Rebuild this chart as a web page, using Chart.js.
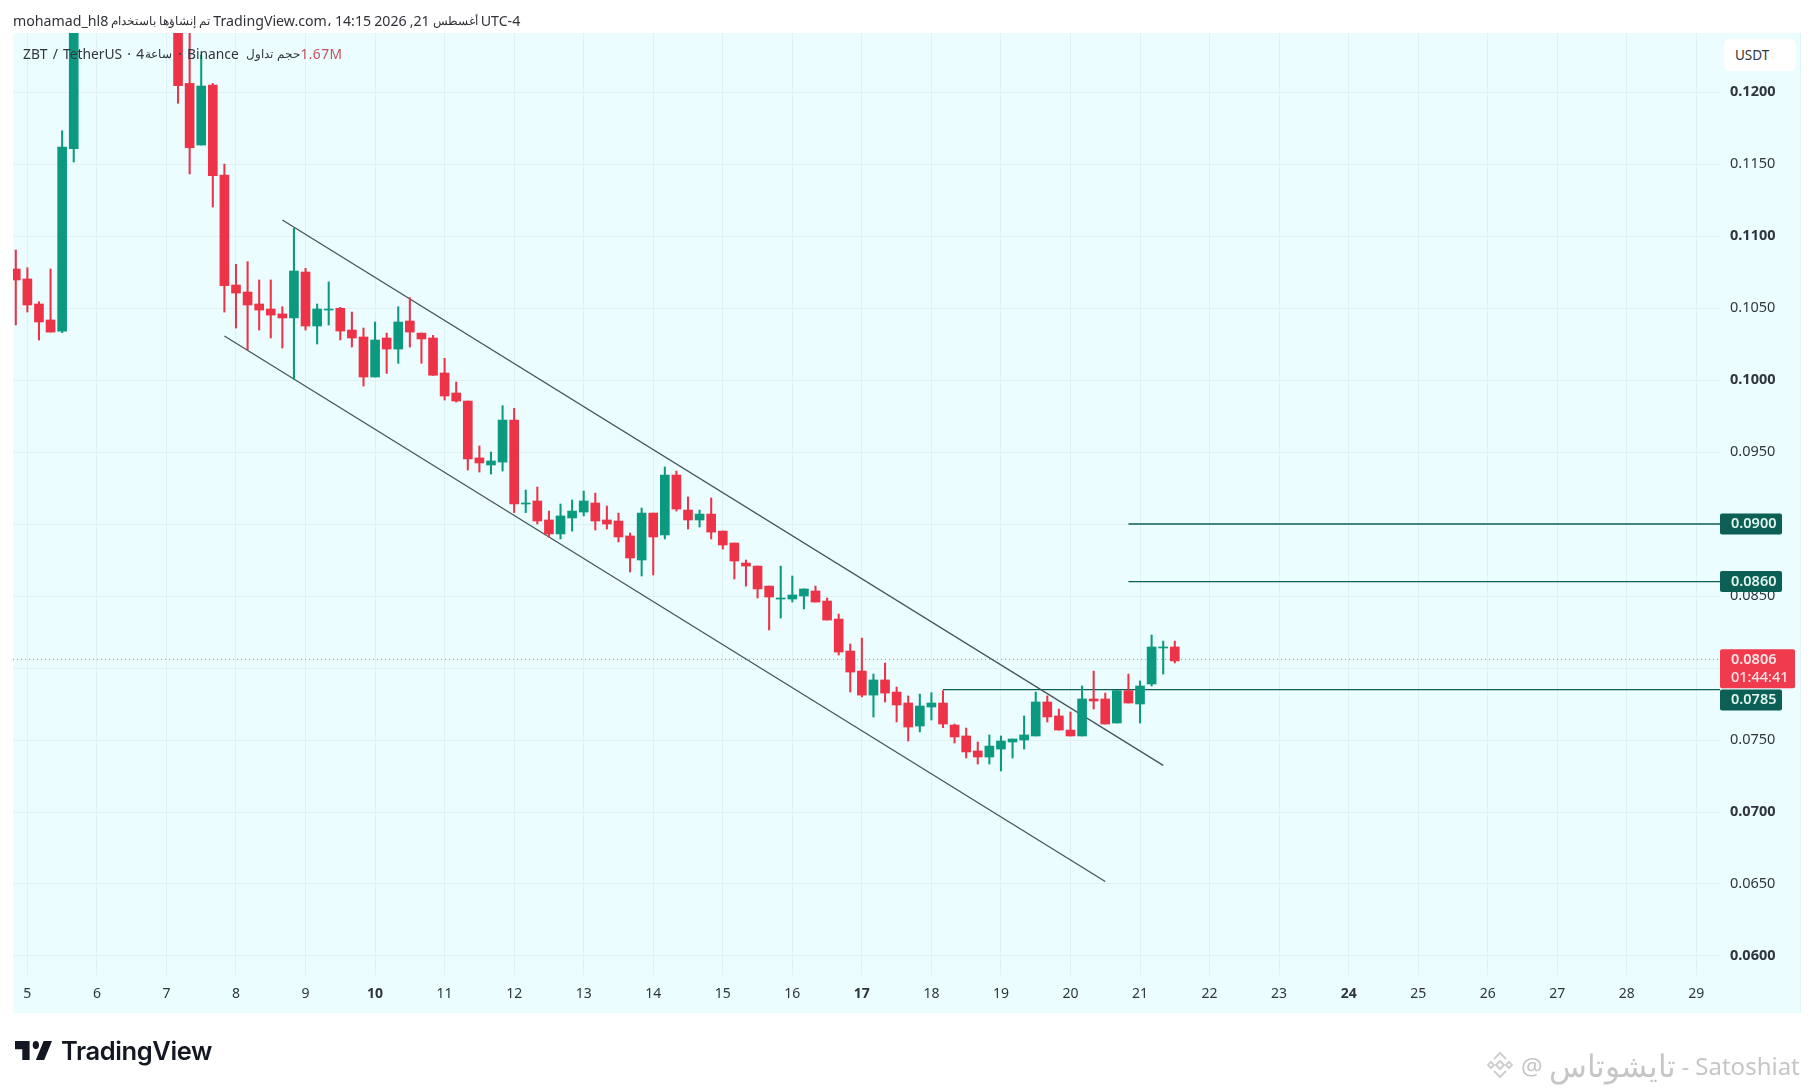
<!DOCTYPE html>
<html>
<head>
<meta charset="utf-8">
<title>ZBT / TetherUS</title>
<script src="https://cdn.jsdelivr.net/npm/chart.js@4/dist/chart.umd.min.js"></script>
<style>
  html, body { margin: 0; padding: 0; background: #fff; }
  body { width: 1814px; height: 1088px; position: relative; overflow: hidden; font-family: "Noto Sans", sans-serif; }
  canvas { position: absolute; left: 0; top: 0; }
  .over { position: absolute; white-space: pre; display: flex; align-items: center; }
  .over span { display: inline-block; }
  #header { left: 13px; top: 10px; height: 20px; font-size: 14.2px; color: #2f3238; gap: 3px; }
  #header .ar { font-size: 11.5px; }
  #legend { left: 23px; top: 43px; height: 20px; font-size: 13.8px; color: #2f3440; gap: 4px; word-spacing: 1.6px; }
  #legend .ar { font-size: 12px; }
  #legend .vol { color: #c2515f; letter-spacing: 0.4px; margin-left: -4px; }
  #unit { left: 1724px; top: 39px; width: 72px; height: 32px; background: #fff; border-radius: 6px; font-size: 13.5px; color: #2f3440; padding-left: 11px; box-sizing: border-box; }
  #brand { left: 15px; top: 1034px; height: 32px; gap: 9px; font-family: Inter, sans-serif; font-weight: 600; font-size: 25.5px; letter-spacing: -0.4px; color: #131722; }
  #mark { left: 1485px; top: 1048px; height: 34px; gap: 6px; font-family: "Noto Sans", sans-serif; font-size: 24px; color: #c6c6c6; }
  #mark .ar { font-size: 31px; line-height: 34px; }
</style>
</head>
<body>
<canvas id="chart" width="1814" height="1088"></canvas>
<div class="over" id="header"><span>mohamad_hl8</span><span class="ar">تم إنشاؤها باستخدام</span><span>TradingView.com،</span><span>14:15</span><span>2026</span><span>,21</span><span class="ar">أغسطس</span><span>UTC-4</span></div>
<div class="over" id="legend"><span>ZBT / TetherUS · 4</span><span class="ar" style="margin-left:-3px">ساعة</span><span style="margin-left:2px">· Binance</span><span class="ar" style="margin-left:3px">حجم تداول</span><span class="vol">1.67M</span></div>
<div class="over" id="unit">USDT</div>
<div class="over" id="brand">
  <svg width="37" height="19" viewBox="0 6 35.5 14" preserveAspectRatio="none"><path fill="#131722" d="M14 6H0v6h7v8h7V6ZM28 20h-8l7.5-14h8L28 20Z"/><circle fill="#131722" cx="20" cy="9" r="3"/></svg>
  <span>TradingView</span>
</div>
<div class="over" id="mark">
  <svg width="30" height="30" viewBox="0 0 30 30"><g fill="none" stroke="#cfcfcf" stroke-width="2"><path d="M9 9l6-6 6 6"/><path d="M9 21l6 6 6-6"/><path d="M3 15l3-3 3 3-3 3z"/><path d="M21 15l3-3 3 3-3 3z"/><path d="M15 11l4 4-4 4-4-4z"/></g></svg>
  <span>@</span><span class="ar">تايشوتاس</span><span>-</span><span>Satoshiat</span>
</div>
<script>
const opens = [
  0.10771, 0.10702, 0.10528, 0.10417, 0.10340, 0.11606, 0.1262, 0.1290, 0.1305, 0.1320,
  0.1335, 0.1325, 0.1310, 0.1285, 0.1268, 0.1206, 0.11632, 0.12049, 0.11424, 0.10660,
  0.10611, 0.10528, 0.10493, 0.10459, 0.10431, 0.10750, 0.10375, 0.10486, 0.10498, 0.10347,
  0.10299, 0.10021, 0.10292, 0.10215, 0.10410, 0.10326, 0.10292, 0.10049, 0.09910, 0.09854,
  0.09459, 0.09410, 0.09430, 0.09722, 0.09139, 0.09160, 0.09028, 0.08931, 0.09042, 0.09083,
  0.09146, 0.09028, 0.09021, 0.08917, 0.08750, 0.09076, 0.08924, 0.09340, 0.09097, 0.09028,
  0.09069, 0.08951, 0.08868, 0.08729, 0.08708, 0.08569, 0.08479, 0.08479, 0.08500, 0.08535,
  0.08465, 0.08340, 0.08118, 0.07979, 0.07812, 0.07917, 0.07833, 0.07757, 0.07597, 0.07729,
  0.07757, 0.07604, 0.07528, 0.07424, 0.07382, 0.07437, 0.07486, 0.07500, 0.07528, 0.07764,
  0.07667, 0.07569, 0.07528, 0.07785, 0.07785, 0.07618, 0.07843, 0.07750, 0.07889, 0.08139,
  0.08146
];
const closes = [
  0.10695, 0.10521, 0.10403, 0.10333, 0.11618, 0.1262, 0.1290, 0.1305, 0.1320, 0.1335,
  0.1325, 0.1310, 0.1285, 0.1268, 0.12044, 0.11613, 0.12042, 0.11419, 0.10655, 0.10604,
  0.10521, 0.10486, 0.10451, 0.10431, 0.10757, 0.10375, 0.10493, 0.10493, 0.10340, 0.10292,
  0.10021, 0.10278, 0.10215, 0.10403, 0.10333, 0.10285, 0.10033, 0.09889, 0.09854, 0.09452,
  0.09424, 0.09438, 0.09722, 0.09139, 0.09146, 0.09021, 0.08931, 0.09056, 0.09090, 0.09160,
  0.09021, 0.09000, 0.08910, 0.08764, 0.09076, 0.08910, 0.09340, 0.09104, 0.09028, 0.09069,
  0.08944, 0.08854, 0.08743, 0.08708, 0.08549, 0.08493, 0.08486, 0.08507, 0.08549, 0.08458,
  0.08333, 0.08111, 0.07972, 0.07812, 0.07917, 0.07826, 0.07743, 0.07590, 0.07736, 0.07757,
  0.07611, 0.07521, 0.07417, 0.07382, 0.07458, 0.07493, 0.07507, 0.07535, 0.07764, 0.07660,
  0.07569, 0.07528, 0.07785, 0.07771, 0.07611, 0.07843, 0.07757, 0.07875, 0.08146, 0.08146,
  0.08049
];
const highs = [
  0.10903, 0.10780, 0.10544, 0.10771, 0.11731, 0.1275, 0.1300, 0.1315, 0.1330, 0.1345,
  0.1345, 0.1330, 0.1315, 0.1295, 0.1285, 0.1255, 0.12257, 0.1206, 0.1150, 0.10803,
  0.10822, 0.10695, 0.10695, 0.10509, 0.11053, 0.10776, 0.10528, 0.10681, 0.10505, 0.10472,
  0.10361, 0.10403, 0.10326, 0.10509, 0.10572, 0.10326, 0.10310, 0.10151, 0.09986, 0.09854,
  0.09542, 0.09500, 0.09822, 0.09803, 0.09236, 0.09257, 0.09090, 0.09139, 0.09167, 0.09229,
  0.09215, 0.09125, 0.09076, 0.08938, 0.09111, 0.09076, 0.09396, 0.09368, 0.09188, 0.09097,
  0.09181, 0.08951, 0.08868, 0.08750, 0.08708, 0.08569, 0.08708, 0.08639, 0.08549, 0.08569,
  0.08486, 0.08375, 0.08167, 0.08208, 0.07958, 0.08035, 0.07868, 0.07806, 0.07819, 0.07829,
  0.07843, 0.07611, 0.07583, 0.07486, 0.07535, 0.07528, 0.07507, 0.07667, 0.07833, 0.07806,
  0.07715, 0.07694, 0.07875, 0.07979, 0.07826, 0.07843, 0.07958, 0.07910, 0.08229, 0.08187,
  0.08187
];
const lows = [
  0.10382, 0.10472, 0.10278, 0.10333, 0.10329, 0.11514, 0.1255, 0.1280, 0.1295, 0.1310,
  0.1315, 0.1300, 0.1275, 0.1260, 0.11922, 0.11431, 0.11632, 0.11201, 0.10472, 0.10361,
  0.10209, 0.10347, 0.10292, 0.10222, 0.10005, 0.10347, 0.10250, 0.10382, 0.10278, 0.10229,
  0.09958, 0.10021, 0.10046, 0.10116, 0.10229, 0.10116, 0.10033, 0.09861, 0.09847, 0.09375,
  0.09361, 0.09347, 0.09368, 0.09079, 0.09079, 0.09000, 0.08910, 0.08896, 0.08951, 0.09056,
  0.08958, 0.08965, 0.08875, 0.08667, 0.08639, 0.08646, 0.08896, 0.09090, 0.08965, 0.08979,
  0.08896, 0.08826, 0.08618, 0.08569, 0.08486, 0.08264, 0.08347, 0.08458, 0.08410, 0.08458,
  0.08333, 0.08090, 0.07833, 0.07799, 0.07660, 0.07764, 0.07625, 0.07493, 0.07556, 0.07639,
  0.07586, 0.07479, 0.07375, 0.07333, 0.07333, 0.07285, 0.07375, 0.07437, 0.07528, 0.07625,
  0.07569, 0.07528, 0.07528, 0.07715, 0.07611, 0.07618, 0.07757, 0.07618, 0.07875, 0.07958,
  0.08035
];

const dayLabels = ["5", "6", "7", "8", "9", "10", "11", "12", "13", "14", "15", "16", "17", "18", "19", "20", "21", "22", "23", "24", "25", "26", "27", "28", "29"];
const boldDays = ["10", "17", "24"];
const barsPerDay = 6;
const firstDayBar = 1;
const priceTicks = [0.12, 0.115, 0.11, 0.105, 0.1, 0.095, 0.09, 0.085, 0.08, 0.075, 0.07, 0.065, 0.06];
const boldPrices = [0.12, 0.11, 0.1, 0.09, 0.08, 0.07, 0.06];

const upperChannelBars = [23, 99];
const upperChannelPrices = [0.11111, 0.07324];
const lowerChannelBars = [18, 94];
const lowerChannelPrices = [0.10306, 0.06517];
const levelPrices = [0.09, 0.086, 0.0785];
const levelStartBars = [96, 96, 80];
const lastPrice = 0.0806;
const countdown = "01:44:41";

const GREEN = "#0b9a80";
const RED = "#ec3347";
const LEVEL_COLOR = "#0b5f55";
const CHANNEL_COLOR = "#44555f";
const GRID_COLOR = "#dff2f3";
const PANEL_COLOR = "#ebfdfe";
const X_MIN = -0.24;
const X_MAX = 147.04;

const barColors = opens.map((o, i) => (closes[i] >= o ? GREEN : RED));
const dayTicks = dayLabels.map((d, i) => firstDayBar + i * barsPerDay);

const levelDatasets = levelPrices.map((p, i) => ({
  type: "line",
  data: [{ x: levelStartBars[i], y: p }, { x: X_MAX, y: p }],
  borderColor: LEVEL_COLOR,
  borderWidth: 1.3,
  pointRadius: 0,
  order: 3,
}));

function channel(bars, prices) {
  return {
    type: "line",
    data: bars.map((b, i) => ({ x: b, y: prices[i] })),
    borderColor: CHANNEL_COLOR,
    borderWidth: 1.3,
    pointRadius: 0,
    order: 3,
  };
}

const panelPlugin = {
  id: "panel",
  beforeDraw(chart) {
    const c = chart.ctx;
    c.save();
    c.fillStyle = PANEL_COLOR;
    c.fillRect(13, 33, 1788, 980);
    c.strokeStyle = "#e3f3f4";
    c.beginPath();
    c.moveTo(1800.5, 33);
    c.lineTo(1800.5, 1013);
    c.stroke();
    c.restore();
  },
};

function priceBox(c, top, height, width, color) {
  c.fillStyle = color;
  c.beginPath();
  c.roundRect(1720, top, width, height, 2);
  c.fill();
}

// price tags sit on top of the axis labels, like the platform does
const priceTagPlugin = {
  id: "priceTags",
  afterDraw(chart) {
    const c = chart.ctx;
    const y = chart.scales.y;
    c.save();
    c.textBaseline = "middle";
    c.textAlign = "left";
    c.font = '600 14.5px "Noto Sans"';
    levelPrices.forEach((p, i) => {
      const py = y.getPixelForValue(p);
      // the lowest tag is pushed down by the last price tag
      const mid = i === 2 ? py + 10.5 : py;
      priceBox(c, mid - 10.5, 21, 62, LEVEL_COLOR);
      c.fillStyle = "#dff5ee";
      c.fillText(p.toFixed(4), 1731, mid);
    });
    const ly = y.getPixelForValue(lastPrice);
    priceBox(c, ly - 10, 39, 75, "#f03a4e");
    c.fillStyle = "#ffe6e6";
    c.fillText(lastPrice.toFixed(4), 1731, ly + 1);
    c.font = '500 14.5px "Noto Sans"';
    c.fillText(countdown, 1731, ly + 19);
    c.restore();
  },
};

new Chart(document.getElementById("chart"), {
  data: {
    datasets: [
      {
        type: "bar",
        data: opens.map((o, i) => ({ x: i, y: [Math.min(o, closes[i]), Math.max(o, closes[i])] })),
        backgroundColor: barColors,
        barThickness: 9,
        grouped: false,
        order: 0,
      },
      {
        type: "bar",
        data: opens.map((o, i) => ({ x: i, y: [lows[i], highs[i]] })),
        backgroundColor: barColors,
        barThickness: 1.4,
        grouped: false,
        order: 1,
      },
      {
        type: "line",
        data: [{ x: X_MIN, y: lastPrice }, { x: X_MAX, y: lastPrice }],
        borderColor: "#d9798a",
        borderWidth: 1,
        borderDash: [1, 3],
        pointRadius: 0,
        order: 4,
      },
      channel(upperChannelBars, upperChannelPrices),
      channel(lowerChannelBars, lowerChannelPrices),
      ...levelDatasets,
    ],
  },
  options: {
    responsive: false,
    animation: false,
    devicePixelRatio: 1,
    layout: { padding: { left: 13, top: 33, right: 14, bottom: 75 } },
    plugins: { legend: { display: false }, tooltip: { enabled: false } },
    scales: {
      x: {
        type: "linear",
        offset: false,
        min: X_MIN,
        max: X_MAX,
        afterBuildTicks(scale) {
          scale.ticks = dayTicks.map((value) => ({ value }));
        },
        afterFit(scale) {
          scale.height = 38;
        },
        grid: { color: GRID_COLOR, drawTicks: false, lineWidth: 1, offset: false },
        border: { display: false },
        ticks: {
          autoSkip: false,
          maxRotation: 0,
          padding: 11,
          color: "#2f3440",
          font: (ctx) => {
            const label = ctx.tick ? dayLabels[dayTicks.indexOf(ctx.tick.value)] : "";
            return { family: "Noto Sans", size: 14, weight: boldDays.includes(label) ? "700" : "400" };
          },
          callback: (value) => dayLabels[dayTicks.indexOf(value)],
        },
      },
      y: {
        type: "linear",
        position: "right",
        min: 0.05868,
        max: 0.1241,
        afterBuildTicks(scale) {
          scale.ticks = priceTicks.map((value) => ({ value }));
        },
        afterFit(scale) {
          scale.width = 80;
        },
        grid: { color: GRID_COLOR, drawTicks: false, lineWidth: 1 },
        border: { display: false },
        ticks: {
          padding: 10,
          color: "#2f3440",
          font: (ctx) => ({
            family: "Noto Sans",
            size: 14.5,
            weight: ctx.tick && boldPrices.includes(ctx.tick.value) ? "700" : "400",
          }),
          callback: (value) => value.toFixed(4),
        },
      },
    },
  },
  plugins: [panelPlugin, priceTagPlugin],
});
</script>
</body>
</html>
